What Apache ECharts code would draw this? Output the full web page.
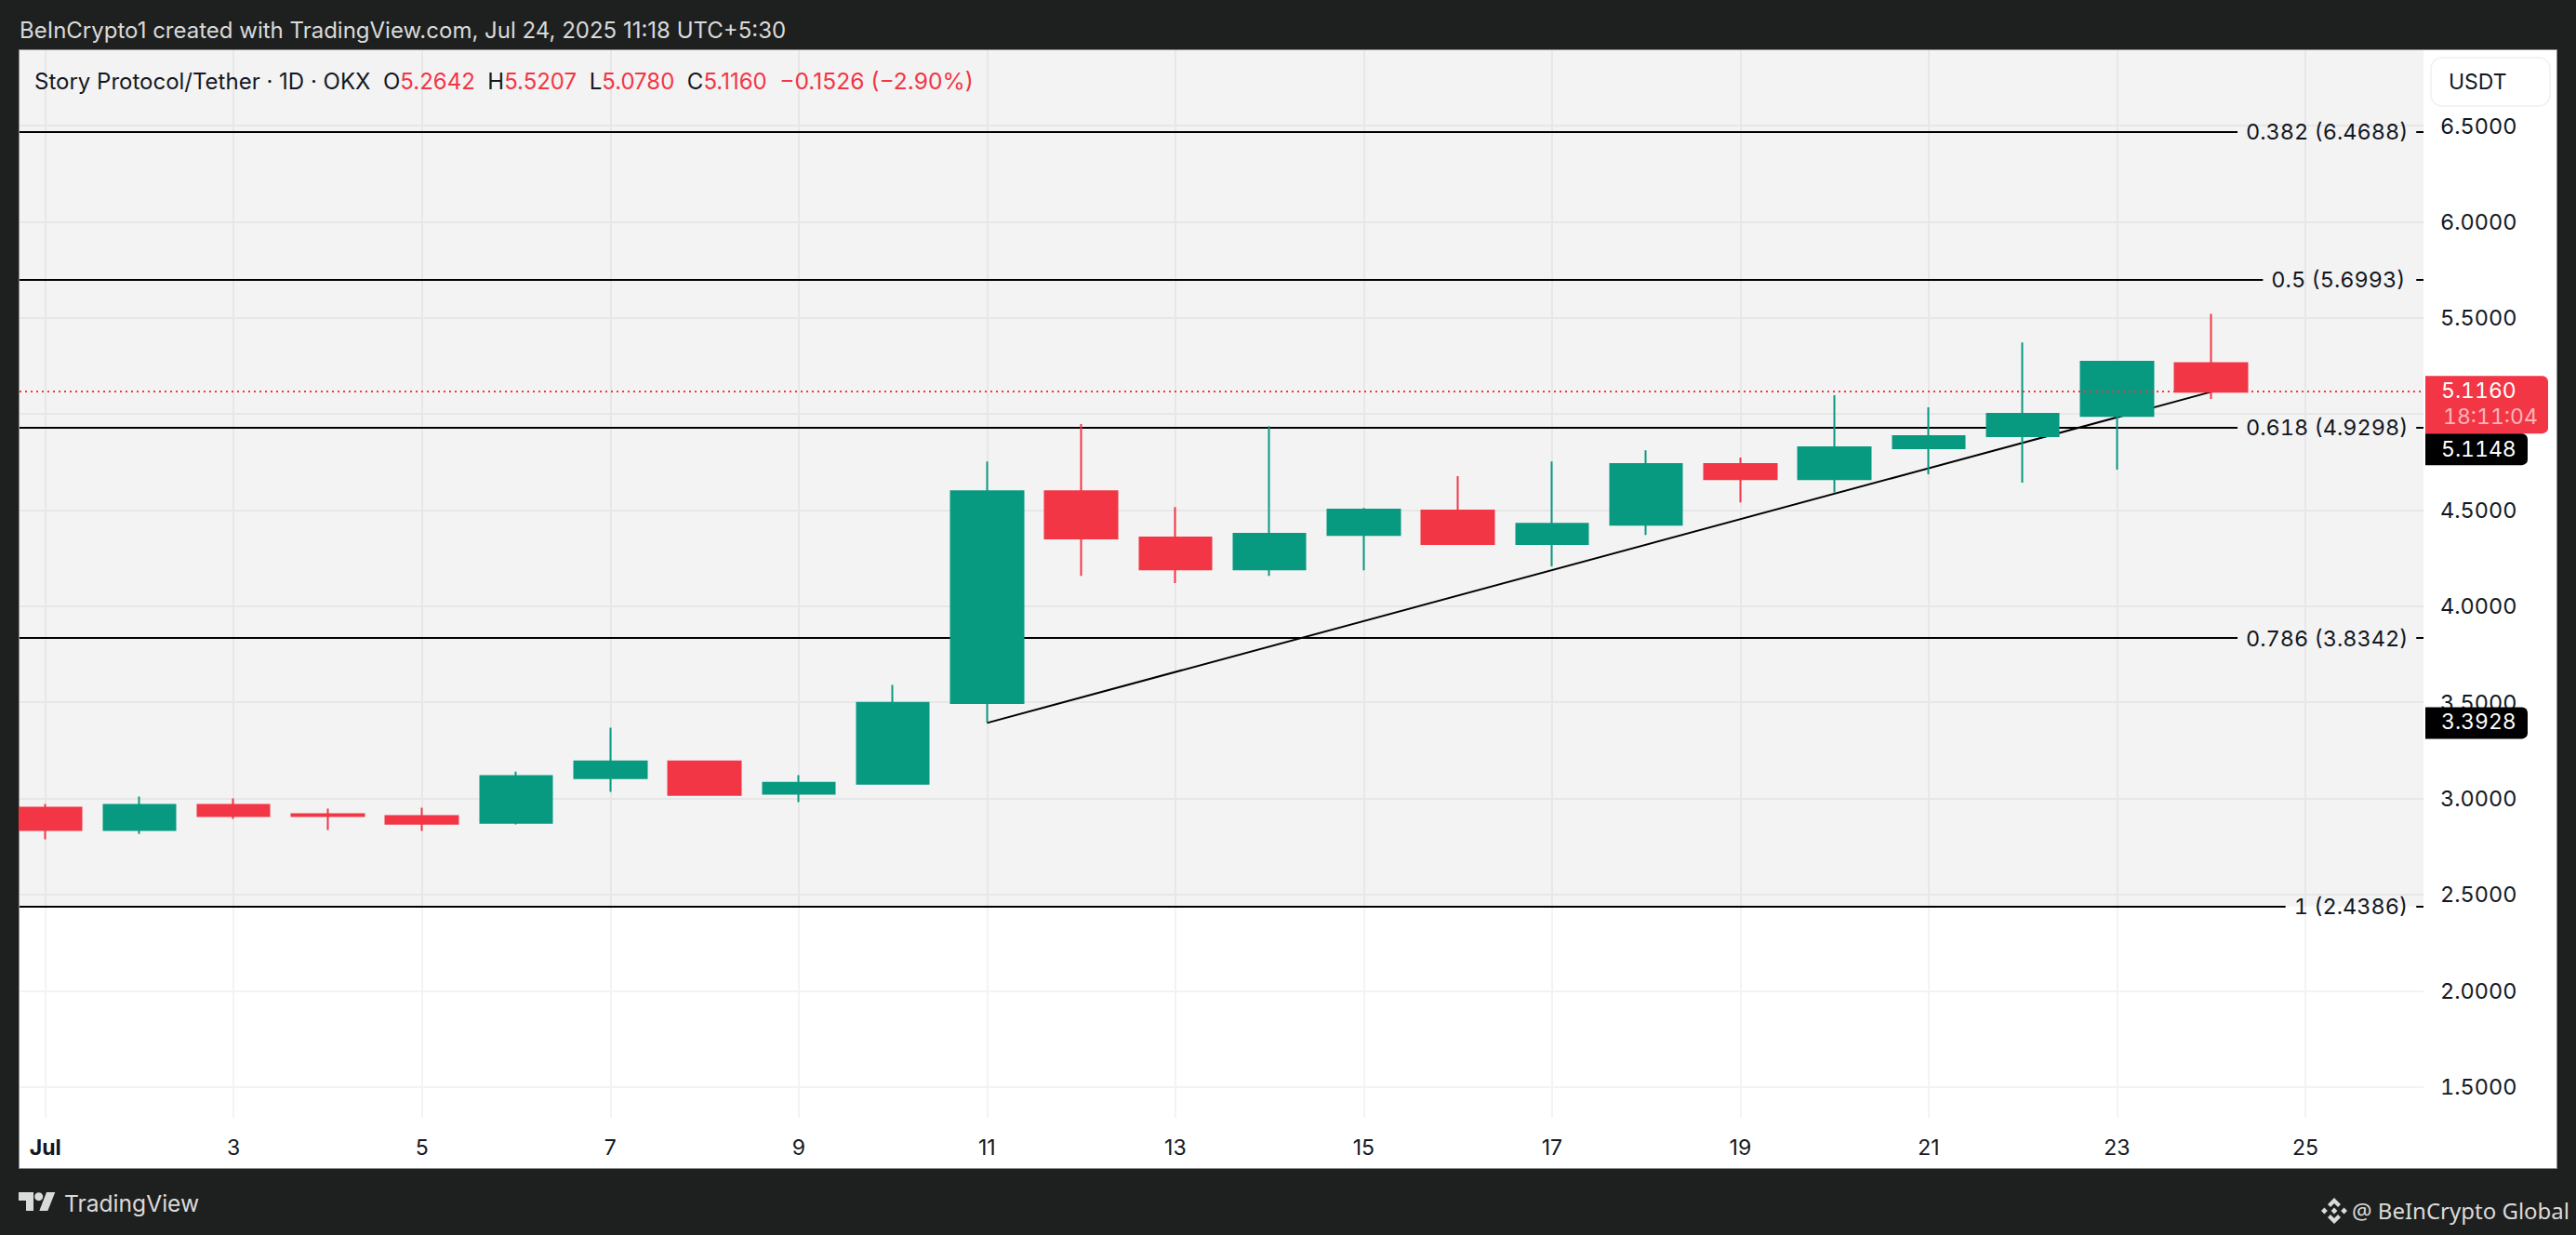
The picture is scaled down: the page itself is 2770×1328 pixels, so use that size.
<!DOCTYPE html>
<html lang="en">
<head>
    <meta charset="UTF-8">
    <title>Story Protocol/Tether</title>
    <style>
        html, body { margin: 0; padding: 0; background: #1e201f; overflow: hidden; }
        #main { width: 2770px; height: 1328px; }
        /* price digits are tabular, header text is not */
        #main text[style*="sans-serif"] { font-variant-numeric: tabular-nums; }
    </style>
</head>
<body>
<div id="main"></div>
<script src="https://cdn.jsdelivr.net/npm/echarts@6/dist/echarts.min.js"></script>
<script>
    // daily candles, Jul 1 - Jul 24 2025
    var days = [1, 2, 3, 4, 5, 6, 7, 8, 9, 10, 11, 12, 13, 14, 15, 16, 17, 18, 19, 20, 21, 22, 23, 24];
    var opens = [2.952, 2.836, 2.966, 2.918, 2.908, 2.874, 3.106, 3.193, 3.024, 3.077, 3.496, 4.598, 4.357, 4.192, 4.371, 4.497, 4.323, 4.424, 4.739, 4.661, 4.821, 4.884, 4.990, 5.2642];
    var closes = [2.836, 2.966, 2.908, 2.908, 2.869, 3.116, 3.193, 3.019, 3.082, 3.498, 4.598, 4.352, 4.192, 4.376, 4.502, 4.323, 4.429, 4.739, 4.661, 4.826, 4.884, 5.000, 5.271, 5.1160];
    var lows = [2.787, 2.816, 2.894, 2.836, 2.831, 2.865, 3.034, 3.015, 2.981, 3.077, 3.396, 4.158, 4.120, 4.158, 4.187, 4.323, 4.207, 4.371, 4.540, 4.592, 4.686, 4.642, 4.710, 5.0780];
    var highs = [2.971, 3.010, 3.000, 2.947, 2.952, 3.140, 3.368, 3.198, 3.121, 3.590, 4.753, 4.947, 4.516, 4.937, 4.511, 4.676, 4.753, 4.811, 4.773, 5.097, 5.034, 5.372, 5.271, 5.5207];

    var tickDays = [1, 3, 5, 7, 9, 11, 13, 15, 17, 19, 21, 23, 25];
    var tickPrices = [1.5, 2, 2.5, 3, 3.5, 4, 4.5, 5, 5.5, 6, 6.5];
    // 5.0000 sits under the last price tag in the picture
    var labelPrices = [1.5, 2, 2.5, 3, 3.5, 4, 4.5, 5.5, 6, 6.5];

    var fibNames = ['0.382', '0.5', '0.618', '0.786', '1'];
    var fibPrices = [6.4688, 5.6993, 4.9298, 3.8342, 2.4386];
    var fibGapDays = [24.28, 24.55, 24.28, 24.28, 24.79];

    var trendDays = [11, 24];
    var trendPrices = [3.3928, 5.1148];
    var lastPrice = 5.1160;

    var xMin = 0.7264, xMax = 26.2548, yMin = 1.3389, yMax = 6.8918;
    var gapEnd = 26.178;

    var green = '#089981', red = '#f23645', ink = '#131722', light = '#dadada';
    var font = 'Inter', tabFont = 'Inter, sans-serif';

    var candleData = [];
    for (var i = 0; i < days.length; i++) {
        candleData.push([days[i], opens[i], closes[i], lows[i], highs[i]]);
    }

    var fibLines = [];
    for (var j = 0; j < fibPrices.length; j++) {
        fibLines.push([
            {name: fibNames[j] + ' (' + fibPrices[j].toFixed(4) + ')', coord: [xMin, fibPrices[j]]},
            {coord: [fibGapDays[j], fibPrices[j]]}
        ]);
        fibLines.push([
            {coord: [gapEnd, fibPrices[j]], label: {show: false}},
            {coord: [xMax, fibPrices[j]]}
        ]);
    }

    var mychart = echarts.init(document.getElementById('main'), null, {renderer: 'svg'});

    var option = {
        animation: false,
        backgroundColor: '#1e201f',
        grid: {left: 21, right: 164, top: 54, bottom: 126},
        xAxis: {
            type: 'value',
            min: xMin,
            max: xMax,
            axisLine: {show: false},
            axisTick: {show: false, customValues: tickDays},
            splitLine: {show: true, lineStyle: {color: '#f3f3f3', width: 2}},
            axisLabel: {
                customValues: tickDays,
                margin: 20,
                color: ink,
                fontFamily: font,
                fontSize: 23,
                formatter: function (v) {
                    return v === 1 ? '{b|Jul}' : String(v);
                },
                rich: {b: {fontFamily: font, fontSize: 23, fontWeight: 'bold', color: ink}}
            }
        },
        yAxis: {
            type: 'value',
            position: 'right',
            min: yMin,
            max: yMax,
            axisLine: {show: false},
            axisTick: {show: false, customValues: tickPrices},
            splitLine: {show: true, lineStyle: {color: '#f3f3f3', width: 2}},
            axisLabel: {
                customValues: labelPrices,
                margin: 18,
                color: ink,
                fontFamily: tabFont,
                fontSize: 23.5,
                formatter: function (v) {
                    return v.toFixed(4);
                }
            }
        },
        series: [
            {
                // fib levels and shaded zone
                type: 'line',
                z: 2,
                data: [],
                silent: true,
                markArea: {
                    z: 1,
                    silent: true,
                    itemStyle: {color: 'rgba(0,0,0,0.047)'},
                    data: [[{coord: [xMin, fibPrices[4]]}, {coord: [xMax, yMax]}]]
                },
                markLine: {
                    z: 2,
                    silent: true,
                    symbol: 'none',
                    lineStyle: {color: '#000', width: 2, type: 'solid'},
                    label: {
                        position: 'end',
                        distance: 9,
                        color: ink,
                        fontFamily: tabFont,
                        fontSize: 23.5,
                        formatter: '{b}'
                    },
                    data: fibLines
                }
            },
            {
                type: 'line',
                z: 2,
                silent: true,
                symbol: 'none',
                lineStyle: {color: '#000', width: 2},
                data: [[trendDays[0], trendPrices[0]], [trendDays[1], trendPrices[1]]]
            },
            {
                type: 'candlestick',
                z: 3,
                silent: true,
                barWidth: 78,
                encode: {x: 0, y: [1, 2, 3, 4]},
                itemStyle: {
                    color: green,
                    color0: red,
                    borderColor: green,
                    borderColor0: red,
                    borderWidth: 2
                },
                data: candleData
            },
            {
                // last price line
                type: 'line',
                z: 4,
                data: [],
                silent: true,
                markLine: {
                    z: 4,
                    silent: true,
                    symbol: 'none',
                    label: {show: false},
                    lineStyle: {color: red, width: 2, type: [2, 4]},
                    data: [[{coord: [xMin, lastPrice]}, {coord: [xMax, lastPrice]}]]
                }
            }
        ]
    };
    mychart.setOption(option);

    // frame, header, footer and the price tags on the scale
    function yPx(v) {
        return mychart.convertToPixel({yAxisIndex: 0}, v);
    }
    function tagText(x, y, text, color) {
        return {
            type: 'text', z: 50,
            style: {x: x, y: y, text: text, fill: color, fontFamily: tabFont, fontSize: 23, textVerticalAlign: 'middle'}
        };
    }
    function logoPart(points) {
        return {type: 'polygon', z: 50, x: 2510, y: 1302, shape: {points: points}, style: {fill: light}};
    }

    var lastY = yPx(lastPrice);
    var trendY = yPx(trendPrices[0]);

    var graphics = [
        {type: 'rect', z: -10, shape: {x: 20.5, y: 53.5, width: 2729, height: 1203}, style: {fill: '#fff', stroke: '#8a8a8a', lineWidth: 1}},
        // the first candle runs past the left edge of the pane
        {type: 'rect', z: 45, shape: {x: 0, y: 400, width: 20, height: 600}, style: {fill: '#1e201f'}},
        {type: 'text', z: 50, style: {x: 21, y: 32, text: 'BeInCrypto1 created with TradingView.com, Jul 24, 2025 11:18 UTC+5:30', fill: light, font: '24px ' + font, textVerticalAlign: 'middle'}},
        {
            type: 'text', z: 50,
            style: {
                x: 37, y: 87,
                text: 'Story Protocol/Tether · 1D · OKX  O{r|5.2642}  H{r|5.5207}  L{r|5.0780}  C{r|5.1160}  {r2|−0.1526 (−2.90%)}',
                fill: ink,
                font: '24px ' + font,
                textVerticalAlign: 'middle',
                rich: {
                    r: {fill: red, font: '24px ' + font},
                    r2: {fill: red, font: '24.6px ' + font}
                }
            }
        },
        {type: 'rect', z: 40, shape: {x: 2614, y: 62, width: 128, height: 52, r: 12}, style: {fill: '#fff', stroke: '#f0f0f0', lineWidth: 1.5}},
        tagText(2633, 88, 'USDT', ink),

        {type: 'rect', z: 40, shape: {x: 2608, y: lastY - 17, width: 132, height: 62, r: [0, 6, 6, 0]}, style: {fill: red}},
        tagText(2625, lastY - 1, '5.1160', '#fff'),
        tagText(2627, lastY + 27, '18:11:04', 'rgba(255,255,255,0.65)'),
        {type: 'rect', z: 41, shape: {x: 2608, y: lastY + 45, width: 110, height: 34, r: [0, 6, 6, 0]}, style: {fill: '#000'}},
        tagText(2625, lastY + 62, trendPrices[1].toFixed(4), '#fff'),
        {type: 'rect', z: 40, shape: {x: 2608, y: trendY - 17, width: 110, height: 34, r: [0, 6, 6, 0]}, style: {fill: '#000'}},
        tagText(2625, trendY - 1, trendPrices[0].toFixed(4), '#fff'),

        // TradingView mark
        {type: 'polygon', z: 50, shape: {points: [[20, 1282], [36, 1282], [36, 1302], [28, 1302], [28, 1291], [20, 1291]]}, style: {fill: light}},
        {type: 'circle', z: 50, shape: {cx: 41.7, cy: 1286.7, r: 4.5}, style: {fill: light}},
        {type: 'polygon', z: 50, shape: {points: [[50, 1282], [59.3, 1282], [51.3, 1302], [42.3, 1302]]}, style: {fill: light}},
        {type: 'text', z: 50, style: {x: 69, y: 1294, text: 'TradingView', fill: light, font: '24.6px ' + font, textVerticalAlign: 'middle'}},

        // BeInCrypto mark
        logoPart([[0, -14], [7, -7], [4, -4], [0, -8], [-4, -4], [-7, -7]]),
        logoPart([[0, 14], [7, 7], [4, 4], [0, 8], [-4, 4], [-7, 7]]),
        logoPart([[0, -3.4], [3.4, 0], [0, 3.4], [-3.4, 0]]),
        logoPart([[-10.6, -3.4], [-7.2, 0], [-10.6, 3.4], [-14, 0]]),
        logoPart([[10.6, -3.4], [14, 0], [10.6, 3.4], [7.2, 0]]),
        {type: 'text', z: 50, style: {x: 2529, y: 1301, text: '@ BeInCrypto Global', fill: light, font: '24px "Noto Sans"', textVerticalAlign: 'middle'}}
    ];
    mychart.setOption({graphic: {elements: graphics}});
</script>
</body>
</html>
